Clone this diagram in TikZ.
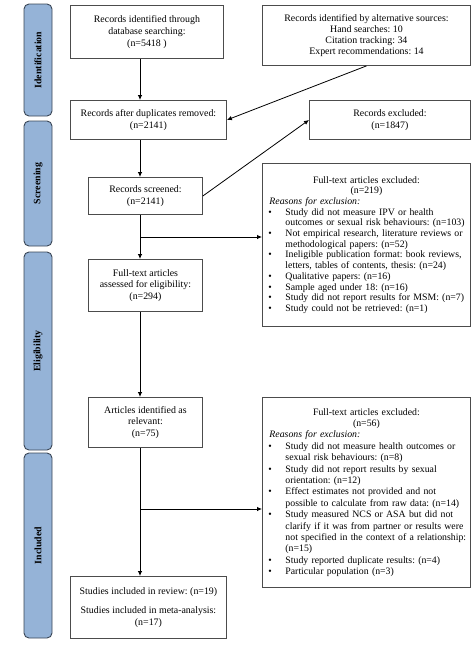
\documentclass[tikz,border=0pt]{standalone}
\usepackage{fontspec}
\setmainfont{Liberation Serif}
\usetikzlibrary{arrows.meta}
\setlength{\parindent}{0pt}
\frenchspacing
\hfuzz=20pt
\definecolor{barblue}{HTML}{95B3D7}
\definecolor{bardark}{HTML}{3A4656}
\newcommand{\bitem}[1]{\par\hangindent=20pt\hangafter=1\noindent\makebox[20pt][l]{\hspace{3pt}\textbullet}#1}
\newcommand{\bl}[1]{\mbox{#1}}

\begin{document}
\begin{tikzpicture}[x=1pt,y=-1pt,
  box/.style={draw=black!70,line width=0.9pt,anchor=north west,inner sep=3pt,align=center,
    font=\fontsize{9.9}{11.8}\selectfont},
  listbox/.style={draw=black!70,line width=0.9pt,anchor=north west,inner xsep=3pt,
    text width=202pt,minimum width=208pt},
  phase/.style={draw=bardark,fill=barblue,line width=0.9pt,rounded corners=5pt,rotate=90,
    minimum height=28pt,inner sep=0pt,font=\fontsize{9.8}{11}\selectfont\bfseries},
  arr/.style={-{Latex[length=5pt,width=4.5pt]},line width=0.8pt}]
  \useasboundingbox (0,0) rectangle (474,646);
  % phases
  \node[phase,minimum width=112pt] (idph) at (38,60) {Identification};
  \node[phase,minimum width=125pt] (scph) at (38,183.5) {Screening};
  \node[phase,minimum width=198pt] (elph) at (38,351) {Eligibility};
  \node[phase,minimum width=185pt] (inph) at (38,545.5) {Included};
  % boxes
  \node[box,minimum width=153pt,minimum height=53pt] (db) at (70,5) {Records identified through\\database searching:\\(n=5418 )};
  \node[box,minimum width=208pt,minimum height=60pt,font=\fontsize{9.9}{11.1}\selectfont] (alt) at (262,5)
    {Records identified by alternative sources:\\Hand searches: 10\\Citation tracking: 34\\Expert recommendations: 14};
  \node[box,minimum width=156pt,minimum height=39pt] (dup) at (70,100) {Records after duplicates removed:\\(n=2141)};
  \node[box,minimum width=161pt,minimum height=39pt] (excl) at (309,100) {Records excluded:\\(n=1847)};
  \node[box,minimum width=114pt,minimum height=37pt] (screen) at (88,177) {Records screened:\\(n=2141)};
  \node[box,minimum width=114pt,minimum height=52pt] (assess) at (88,259) {Full-text articles\\assessed for eligibility:\\(n=294)};
  \node[box,minimum width=114pt,minimum height=50pt] (relev) at (88,397) {Articles identified as\\relevant:\\(n=75)};
  \node[box,minimum width=156pt,minimum height=62pt] (incl) at (70,576) {Studies included in review: (n=19)\\[7pt]Studies included in meta-analysis:\\(n=17)};
  \node[listbox,minimum height=163pt,font=\fontsize{9.8}{10.7}\selectfont] (ftexa) at (262,163) {%
    {\centering Full-text articles excluded:\\(n=219)\par}\raggedright
    \hspace*{4pt}\textit{Reasons for exclusion:}
    \bitem{\bl{Study did not measure IPV or health}\newline\bl{outcomes or sexual risk behaviours: (n=103)}}
    \bitem{\bl{Not empirical research, literature reviews or}\newline\bl{methodological papers: (n=52)}}
    \bitem{\bl{Ineligible publication format: book reviews,}\newline\bl{letters, tables of contents, thesis: (n=24)}}
    \bitem{\bl{Qualitative papers: (n=16)}}
    \bitem{\bl{Sample aged under 18: (n=16)}}
    \bitem{\bl{Study did not report results for MSM: (n=7)}}
    \bitem{\bl{Study could not be retrieved: (n=1)}}};
  \node[listbox,minimum height=190pt,font=\fontsize{9.8}{11.4}\selectfont] (ftexb) at (262,397) {%
    {\centering Full-text articles excluded:\\(n=56)\par}\raggedright
    \hspace*{4pt}\textit{Reasons for exclusion:}
    \bitem{\bl{Study did not measure health outcomes or}\newline\bl{sexual risk behaviours: (n=8)}}
    \bitem{\bl{Study did not report results by sexual}\newline\bl{orientation: (n=12)}}
    \bitem{\bl{Effect estimates not provided and not}\newline\bl{possible to calculate from raw data: (n=14)}}
    \bitem{\bl{Study measured NCS or ASA but did not}\newline\bl{clarify if it was from partner or results were}\newline
      \bl{not specified in the context of a relationship:}\newline\bl{(n=15)}}
    \bitem{\bl{Study reported duplicate results: (n=4)}}
    \bitem{\bl{Particular population (n=3)}}};
  % connectors
  \coordinate (spine) at (140,0);
  \coordinate (forka) at (140,237);
  \coordinate (forkb) at (140,509);
  \draw[arr] (db.south -| spine) -- (dup.north -| spine);
  \draw[arr] (alt.south) -- (dup.east);
  \draw[arr] (dup.south -| spine) -- (screen.north -| spine);
  \draw[arr] (screen.east) -- (excl.west);
  \draw[arr] (screen.south -| spine) -- (assess.north -| spine);
  \draw[arr] (forka) -- (forka -| ftexa.west);
  \draw[arr] (assess.south -| spine) -- (relev.north -| spine);
  \draw[arr] (relev.south -| spine) -- (incl.north -| spine);
  \draw[arr] (forkb) -- (forkb -| ftexb.west);
\end{tikzpicture}
\end{document}
